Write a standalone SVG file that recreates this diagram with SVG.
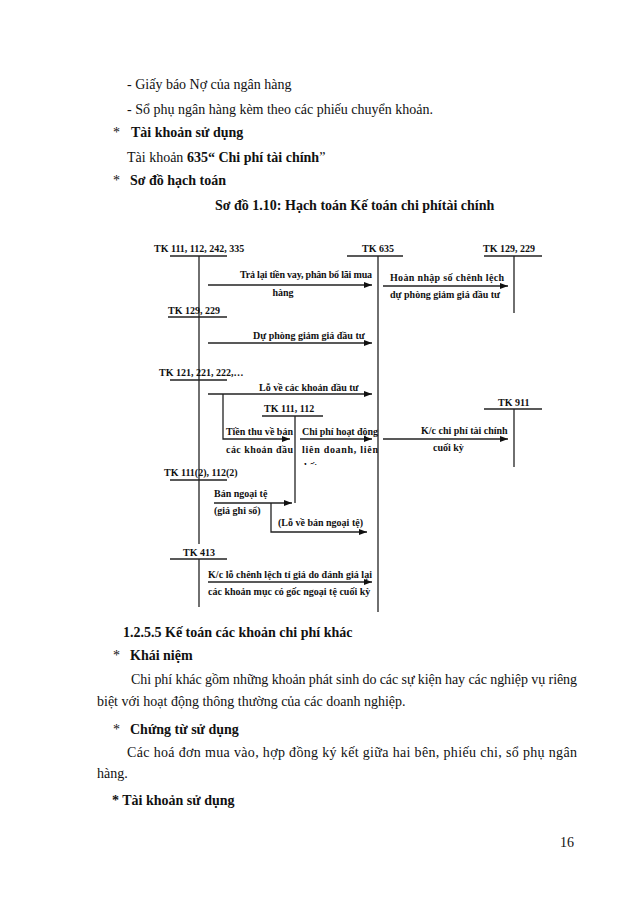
<svg xmlns="http://www.w3.org/2000/svg" width="638" height="902" viewBox="0 0 638 902">
<style>
.b{font-family:"Liberation Serif","Times New Roman",serif;font-size:14px;fill:#111}
.bb{font-family:"Liberation Serif","Times New Roman",serif;font-size:14px;font-weight:bold;fill:#111}
.d{font-family:"Liberation Serif","Times New Roman",serif;font-size:10px;font-weight:bold;fill:#111}
.ln{stroke:#222;stroke-width:1.3;fill:none}
.ar{stroke:#222;stroke-width:1.3;fill:none;marker-end:url(#ah)}
</style>
<defs>
<marker id="ah" markerUnits="userSpaceOnUse" markerWidth="9" markerHeight="7" refX="8" refY="3" orient="auto">
<path d="M0,0 L8,3 L0,6 z" fill="#111"/>
</marker>
<clipPath id="cl"><rect x="300" y="459" width="30" height="6"/></clipPath>
</defs>
<rect width="638" height="902" fill="#fff"/>
<g id="body-top">
<text class="b" x="127" y="89">- Giấy báo Nợ của ngân hàng</text>
<text class="b" x="127" y="114">- Sổ phụ ngân hàng kèm theo các phiếu chuyển khoản.</text>
<text class="b" x="113" y="137">*</text>
<text class="bb" x="131" y="137">Tài khoản sử dụng</text>
<text class="b" x="127" y="162">Tài khoản <tspan font-weight="bold">635“ Chi phí tài chính</tspan>”</text>
<text class="b" x="113" y="185">*</text>
<text class="bb" x="130" y="185">Sơ đồ hạch toán</text>
<text class="bb" x="215" y="210">Sơ đồ 1.10: Hạch toán Kế toán chi phítài chính</text>
</g>
<g id="tk111-112-242-335">
<text class="d" x="154" y="252">TK 111, 112, 242, 335</text>
<line class="ln" x1="170" y1="256" x2="227" y2="256"/>
<line class="ln" x1="199" y1="256" x2="199" y2="544"/>
</g>
<g id="tk635">
<text class="d" x="362" y="252">TK 635</text>
<line class="ln" x1="347" y1="256" x2="403" y2="256"/>
<line class="ln" x1="378" y1="256" x2="378" y2="612"/>
</g>
<g id="tk129-229-right">
<text class="d" x="483" y="252">TK 129, 229</text>
<line class="ln" x1="484" y1="256" x2="542" y2="256"/>
<line class="ln" x1="514" y1="256" x2="514" y2="313"/>
</g>
<g id="tk129-229-left">
<text class="d" x="168" y="314">TK 129, 229</text>
<line class="ln" x1="168" y1="317" x2="227" y2="317"/>
</g>
<g id="tk121-221-222">
<text class="d" x="159" y="376">TK 121, 221, 222,…</text>
<line class="ln" x1="170" y1="380" x2="227" y2="380"/>
</g>
<g id="tk111-112">
<text class="d" x="264" y="412">TK 111, 112</text>
<line class="ln" x1="262" y1="416" x2="323" y2="416"/>
<line class="ln" x1="295" y1="416" x2="295" y2="503"/>
</g>
<g id="tk911">
<text class="d" x="498" y="406">TK 911</text>
<line class="ln" x1="484" y1="409" x2="542" y2="409"/>
<line class="ln" x1="514" y1="409" x2="514" y2="467"/>
</g>
<g id="tk1112-1122">
<text class="d" x="164" y="476">TK 111(2), 112(2)</text>
<line class="ln" x1="170" y1="480" x2="227" y2="480"/>
</g>
<g id="tk413">
<text class="d" x="183" y="556">TK 413</text>
<line class="ln" x1="170" y1="559" x2="227" y2="559"/>
<line class="ln" x1="199" y1="559" x2="199" y2="607"/>
</g>
<g id="connectors">
<line class="ar" x1="208" y1="285" x2="372" y2="285"/>
<line class="ar" x1="383" y1="286" x2="508" y2="286"/>
<line class="ar" x1="208" y1="343" x2="372" y2="343"/>
<line class="ar" x1="208" y1="394" x2="372" y2="394"/>
<polyline class="ar" points="223,394 223,439 290,439"/>
<line class="ar" x1="300" y1="439" x2="372" y2="439"/>
<line class="ar" x1="383" y1="439" x2="508" y2="439"/>
<line class="ar" x1="214" y1="503" x2="292" y2="503"/>
<polyline class="ar" points="271,503 271,532 367,532"/>
<line class="ar" x1="208" y1="582" x2="372" y2="582"/>
</g>
<g id="labels">
<text class="d" x="240" y="278" textLength="132" lengthAdjust="spacing">Trả lại tiền vay, phân bổ lãi mua</text>
<text class="d" x="283" y="296" text-anchor="middle">hàng</text>
<text class="d" x="390" y="281" textLength="114" lengthAdjust="spacing">Hoàn nhập số chênh lệch</text>
<text class="d" x="390" y="298">dự phòng giảm giá đầu tư</text>
<text class="d" x="253" y="339">Dự phòng giảm giá đầu tư</text>
<text class="d" x="259" y="391">Lỗ về các khoản đầu tư</text>
<text class="d" x="226" y="435" textLength="67" lengthAdjust="spacing">Tiền thu về bán</text>
<text class="d" x="226" y="453" textLength="67" lengthAdjust="spacing">các khoản đầu</text>
<text class="d" x="302" y="435" textLength="76" lengthAdjust="spacing">Chi phí hoạt động</text>
<text class="d" x="302" y="453" textLength="76" lengthAdjust="spacing">liên doanh, liên</text>
<text class="d" x="304" y="470" clip-path="url(#cl)">kết</text>
<text class="d" x="421" y="434">K/c chi phí tài chính</text>
<text class="d" x="433" y="451">cuối kỳ</text>
<text class="d" x="214" y="497">Bán ngoại tệ</text>
<text class="d" x="214" y="514">(giá ghi sổ)</text>
<text class="d" x="278" y="526">(Lỗ về bán ngoại tệ)</text>
<text class="d" x="208" y="578" textLength="164" lengthAdjust="spacing">K/c lỗ chênh lệch tỉ giá do đánh giá lại</text>
<text class="d" x="208" y="595">các khoản mục có gốc ngoại tệ cuối kỳ</text>
</g>
<g id="body-bottom">
<text class="bb" x="123" y="637">1.2.5.5 Kế toán các khoản chi phí khác</text>
<text class="b" x="113" y="660">*</text>
<text class="bb" x="130" y="660">Khái niệm</text>
<text class="b" x="131" y="684" textLength="446" lengthAdjust="spacing">Chi phí khác gồm những khoản phát sinh do các sự kiện hay các nghiệp vụ riêng</text>
<text class="b" x="97" y="706">biệt với hoạt động thông thường của các doanh nghiệp.</text>
<text class="b" x="113" y="734">*</text>
<text class="bb" x="130" y="734">Chứng từ sử dụng</text>
<text class="b" x="127" y="757" textLength="450" lengthAdjust="spacing">Các hoá đơn mua vào, hợp đồng ký kết giữa hai bên, phiếu chi, sổ phụ ngân</text>
<text class="b" x="97" y="778">hàng.</text>
<text class="bb" x="112" y="805">* Tài khoản sử dụng</text>
<text class="b" x="560" y="847">16</text>
</g>
</svg>
